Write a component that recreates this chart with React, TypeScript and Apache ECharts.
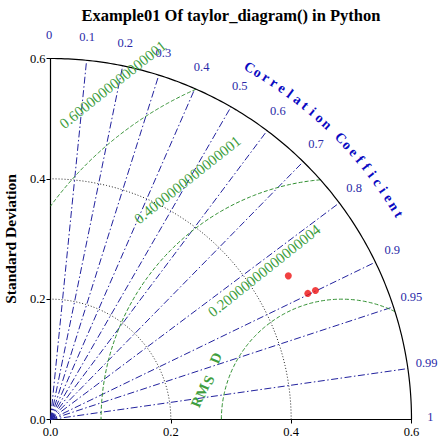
import React, { useEffect, useRef } from "react";
import * as echarts from "echarts";

// ---------- data ----------
const TITLE = "Example01 Of taylor_diagram() in Python";
const Y_TITLE = "Standard Deviation";
const STD_MAX = 0.6;
const STD_ARCS = [0.2, 0.4];
const CORR_TICKS = [0, 0.1, 0.2, 0.3, 0.4, 0.5, 0.6, 0.7, 0.8, 0.9, 0.95, 0.99, 1];
const CORR_LABELS = ["0", "0.1", "0.2", "0.3", "0.4", "0.5", "0.6", "0.7", "0.8", "0.9", "0.95", "0.99", "1"];
const CORR_TITLE = "Correlation Coefficient";
const REF_STD = 0.484;
const RMS_TICKS = [0.2, 0.4, 0.6];
const RMS_LABELS = ["0.20000000000000004", "0.4000000000000001", "0.6000000000000001"];
const RMS_TITLE = ["R", "M", "S", "D"];
const MODEL_STD = [0.4618, 0.4763, 0.4898];
const MODEL_CORR = [0.856, 0.898, 0.899];

// ---------- layout / style ----------
const FONT = '"Liberation Serif", "Times New Roman", serif';
const BLUE_LINE = "#22229e";
const BLUE_TEXT = "#2a2aa8";
const BLUE_TITLE = "#0a0ac2";
const GREEN_LINE = "#2f8f2f";
const GREEN_TEXT = "#3e9e3e";
const CORR_LABEL_R = 0.634;
const CORR_LABEL_OFFSET = [-1.5, -3];
const CORR_TITLE_R = 0.672;
const CORR_TITLE_FROM = 60.5;
const CORR_TITLE_TO = 30.5;
const RMS_LABEL_POS = [
  [0.3553, 0.2472],
  [0.2276, 0.3983],
  [0.1036, 0.5566],
];
const RMS_LABEL_ROT = 38.5;
const RMS_TITLE_POS = [
  [0.2431, 0.0296],
  [0.2524, 0.0482],
  [0.2630, 0.0660],
  [0.2747, 0.1022],
];
const RMS_TITLE_ROT = 67;

const deg = Math.PI / 180;

function arcPts(cx: number, r: number, a0: number, a1: number, n = 160): number[][] {
  const pts: number[][] = [];
  for (let i = 0; i <= n; i++) {
    const a = a0 + ((a1 - a0) * i) / n;
    pts.push([cx + r * Math.cos(a), r * Math.sin(a)]);
  }
  return pts;
}

function rmsRange(R: number): [number, number] {
  const cx = REF_STD;
  const M = STD_MAX;
  let a0 = 0;
  if (cx + R > M) {
    const x = (M * M - R * R + cx * cx) / (2 * cx);
    a0 = Math.atan2(Math.sqrt(Math.max(0, M * M - x * x)), x - cx);
  }
  let a1 = Math.PI;
  if (cx - R < 0) a1 = Math.acos(-cx / R);
  return [a0, a1];
}

type TItem = { x: number; y: number; text: string; rot?: number };

function textSeries(items: TItem[], fill: string, fontSize: number, fontWeight: string, offset = [0, 0]) {
  return {
    type: "custom",
    coordinateSystem: "cartesian2d",
    clip: false,
    silent: true,
    z: 6,
    data: items.map((it) => [it.x, it.y]),
    renderItem: (params: any, api: any) => {
      const it = items[params.dataIndex];
      const p = api.coord([it.x, it.y]);
      return {
        type: "text",
        x: p[0] + offset[0],
        y: p[1] + offset[1],
        rotation: ((it.rot || 0) * Math.PI) / 180,
        style: {
          text: it.text,
          fill,
          fontSize,
          fontWeight,
          fontFamily: FONT,
          align: "center",
          verticalAlign: "middle",
        },
      };
    },
  };
}

function lineSeries(data: number[][], color: string, type: any, width = 1, z = 3) {
  return {
    type: "line",
    data,
    showSymbol: false,
    symbol: "none",
    silent: true,
    clip: false,
    z,
    lineStyle: { color, width, type },
  };
}

export default function App() {
  const ref = useRef<HTMLDivElement>(null);
  useEffect(() => {
    if (!ref.current) return;
    const chart = echarts.init(ref.current, undefined, { renderer: "svg" });
    const series: any[] = [];

    // std dev dotted arcs
    STD_ARCS.forEach((r) => series.push(lineSeries(arcPts(0, r, 0, Math.PI / 2), "#222", [1, 2], 1)));
    // outer arc
    series.push(lineSeries(arcPts(0, STD_MAX, 0, Math.PI / 2), "#000", "solid", 1.2, 4));

    // correlation lines
    CORR_TICKS.filter((c) => c > 0 && c < 1).forEach((c) => {
      const s = Math.sqrt(1 - c * c);
      series.push(lineSeries([[0, 0], [STD_MAX * c, STD_MAX * s]], BLUE_LINE, [7, 2.5, 1.5, 2.5], 1));
    });

    // RMS arcs
    RMS_TICKS.forEach((R) => {
      const [a0, a1] = rmsRange(R);
      series.push(lineSeries(arcPts(REF_STD, R, a0, a1), GREEN_LINE, [4, 2], 1));
    });

    // models
    series.push({
      type: "scatter",
      data: MODEL_STD.map((s, i) => [s * MODEL_CORR[i], s * Math.sqrt(1 - MODEL_CORR[i] * MODEL_CORR[i])]),
      symbolSize: 7,
      itemStyle: { color: "#ee1111" },
      silent: true,
      z: 8,
    });

    // correlation tick labels
    series.push(
      textSeries(
        CORR_TICKS.map((c, i) => {
          const a = Math.acos(c);
          return { x: CORR_LABEL_R * Math.cos(a), y: CORR_LABEL_R * Math.sin(a), text: CORR_LABELS[i] };
        }),
        BLUE_TEXT,
        12.5,
        "normal",
        CORR_LABEL_OFFSET
      )
    );

    // correlation title, char by char
    const chars = CORR_TITLE.split("");
    series.push(
      textSeries(
        chars.map((ch, i) => {
          const a = CORR_TITLE_FROM + ((CORR_TITLE_TO - CORR_TITLE_FROM) * i) / (chars.length - 1);
          return { x: CORR_TITLE_R * Math.cos(a * deg), y: CORR_TITLE_R * Math.sin(a * deg), text: ch, rot: a - 90 };
        }),
        BLUE_TITLE,
        14,
        "bold"
      )
    );

    // RMS labels
    series.push(
      textSeries(
        RMS_LABELS.map((t, i) => ({ x: RMS_LABEL_POS[i][0], y: RMS_LABEL_POS[i][1], text: t, rot: RMS_LABEL_ROT })),
        GREEN_TEXT,
        15,
        "normal"
      )
    );

    // RMSD title
    series.push(
      textSeries(
        RMS_TITLE.map((t, i) => ({ x: RMS_TITLE_POS[i][0], y: RMS_TITLE_POS[i][1], text: t, rot: RMS_TITLE_ROT })),
        GREEN_TEXT,
        14.5,
        "bold"
      )
    );

    const axisCommon = {
      type: "value",
      min: 0,
      max: STD_MAX,
      interval: 0.2,
      axisLine: { show: true, onZero: false, lineStyle: { color: "#000", width: 1.2 } },
      axisTick: { show: true, length: 4, lineStyle: { color: "#000" } },
      axisLabel: { color: "#000", fontFamily: FONT, fontSize: 12.5, formatter: (v: number) => v.toFixed(1) },
      splitLine: { show: false },
    };

    chart.setOption({
      animation: false,
      backgroundColor: "#fff",
      grid: { left: 50.5, top: 58.5, width: 361, height: 361, containLabel: false, outerBoundsMode: "none" },
      xAxis: { ...axisCommon, axisLabel: { ...axisCommon.axisLabel, margin: 6 } },
      yAxis: {
        ...axisCommon,
        axisLabel: { ...axisCommon.axisLabel, margin: 5 },
        name: Y_TITLE,
        nameLocation: "middle",
        nameRotate: 90,
        nameGap: 29,
        nameTextStyle: { color: "#000", fontFamily: FONT, fontWeight: "bold", fontSize: 15.5 },
      },
      graphic: [
        {
          type: "text",
          x: 231,
          y: 15,
          style: {
            text: TITLE,
            fill: "#000",
            fontFamily: FONT,
            fontWeight: "bold",
            fontSize: 16.5,
            align: "center",
            verticalAlign: "middle",
          },
        },
      ],
      series,
    });
    return () => chart.dispose();
  }, []);
  return <div ref={ref} style={{ position: "fixed", left: 0, top: 0, width: 446, height: 448 }} />;
}
